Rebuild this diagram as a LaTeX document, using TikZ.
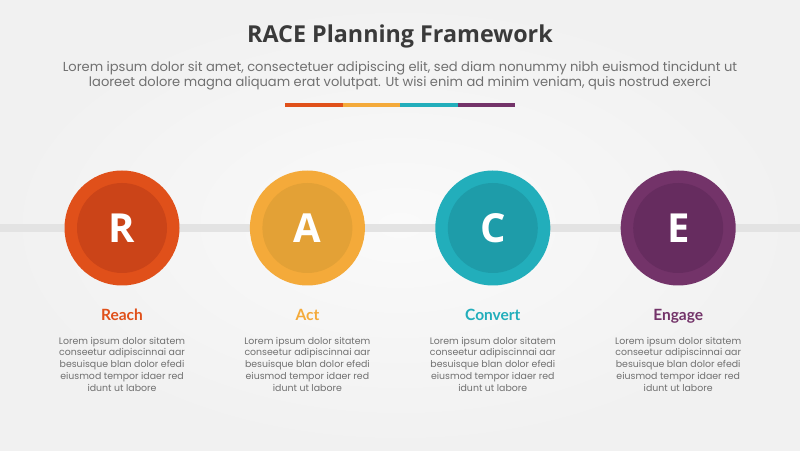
\documentclass[tikz,border=0pt]{standalone}
\usepackage{fontspec}
\setmainfont{Poppins}
\newfontfamily\titlefont{Open Sans}
\newfontfamily\labelfont{Lato}
\usetikzlibrary{positioning}
\definecolor{bgfill}{HTML}{F1F1F1}
\definecolor{bgcentre}{HTML}{FAFAFA}
\definecolor{trackgray}{HTML}{E3E3E3}
\definecolor{titlegray}{HTML}{3A3A3A}
\definecolor{textgray}{HTML}{707070}
\definecolor{reachout}{HTML}{E0501A}
\definecolor{reachin}{HTML}{CB4418}
\definecolor{actout}{HTML}{F4AA3A}
\definecolor{actin}{HTML}{E3A136}
\definecolor{convout}{HTML}{22AEBB}
\definecolor{convin}{HTML}{1E9CA9}
\definecolor{engout}{HTML}{733369}
\definecolor{engin}{HTML}{662C5F}
\tikzset{
    ring/.style={circle, minimum size=115pt, inner sep=0pt, fill=#1},
    core/.style={circle, minimum size=90pt, inner sep=0pt, fill=#1, text=white,
        font=\titlefont\bfseries\fontsize{40}{40}\selectfont},
    steplabel/.style={inner sep=0pt, text=#1, font=\labelfont\bfseries\fontsize{15.5}{17}\selectfont},
    stepbody/.style={inner sep=0pt, text=textgray, align=center, font=\fontsize{9.4}{11.8}\selectfont},
    barseg/.style={line width=3.5pt, draw=#1}
}

\begin{document}
\begin{tikzpicture}[x=1pt, y=1pt]
        \useasboundingbox (0,0) rectangle (800,450);
        \shade[inner color=bgcentre, outer color=bgfill] (0,0) rectangle (800,450);
        % header
        \node[text=titlegray, font=\titlefont\bfseries\fontsize{23.3}{27}\selectfont] (title) at (400,414) {RACE Planning Framework};
        \node[below=10pt of title, text=textgray, align=center, font=\fontsize{13.05}{15.2}\selectfont, inner sep=0pt] (subtitle)
            {Lorem ipsum dolor sit amet, consectetuer adipiscing elit, sed diam nonummy nibh euismod tincidunt ut\\
             laoreet dolore magna aliquam erat volutpat. Ut wisi enim ad minim veniam, quis nostrud exerci};
        \coordinate (b0) at (285,345);
        \coordinate (b1) at (342.5,345);
        \coordinate (b2) at (400,345);
        \coordinate (b3) at (457.5,345);
        \coordinate (b4) at (515,345);
        \draw[barseg=reachout] (b0) -- (b1);
        \draw[barseg=actout] (b1) -- (b2);
        \draw[barseg=convout] (b2) -- (b3);
        \draw[barseg=engout] (b3) -- (b4);
        % track
        \coordinate (trackL) at (0,222);
        \coordinate (trackR) at (800,222);
        \draw[trackgray, line width=8pt] (trackL) -- (trackR);
        % circles
        \node[ring=reachout] (r) at (122,222) {};
        \node[ring=actout, right=70pt of r] (a) {};
        \node[ring=convout, right=70pt of a] (c) {};
        \node[ring=engout, right=70pt of c] (e) {};
        \node[core=reachin] (rin) at (r) {R};
        \node[core=actin] (ain) at (a) {A};
        \node[core=convin] (cin) at (c) {C};
        \node[core=engin] (ein) at (e) {E};
        % labels
        \node[steplabel=reachout, below=23pt of r] (rlabel) {Reach};
        \node[steplabel=actout, below=23pt of a] (alabel) {Act};
        \node[steplabel=convout, below=23pt of c] (clabel) {Convert};
        \node[steplabel=engout, below=23pt of e] (elabel) {Engage};
        \node[stepbody, below=16pt of r |- rlabel.south] (rbody) {Lorem ipsum dolor sitatem\\conseetur adipiscinnai aar\\besuisque blan dolor efedi\\eiusmod tempor idaer red\\idunt ut labore};
        \node[stepbody, below=16pt of a |- rlabel.south] (abody) {Lorem ipsum dolor sitatem\\conseetur adipiscinnai aar\\besuisque blan dolor efedi\\eiusmod tempor idaer red\\idunt ut labore};
        \node[stepbody, below=16pt of c |- rlabel.south] (cbody) {Lorem ipsum dolor sitatem\\conseetur adipiscinnai aar\\besuisque blan dolor efedi\\eiusmod tempor idaer red\\idunt ut labore};
        \node[stepbody, below=16pt of e |- rlabel.south] (ebody) {Lorem ipsum dolor sitatem\\conseetur adipiscinnai aar\\besuisque blan dolor efedi\\eiusmod tempor idaer red\\idunt ut labore};
    \end{tikzpicture}
\end{document}
